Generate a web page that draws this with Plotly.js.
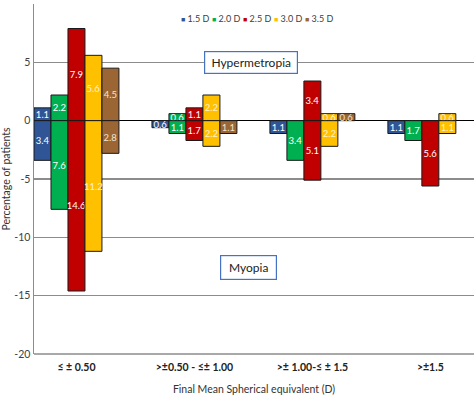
<!DOCTYPE html>
<html><head><meta charset="utf-8">
<script src="https://cdn.plot.ly/plotly-3.0.1.min.js"></script>
<style>html,body{margin:0;padding:0;background:#fff}#chart{width:474px;height:397px}</style>
</head><body><div id="chart"></div>
<script>
const categories = ['≤ ± 0.50', '>±0.50 - ≤± 1.00', '>± 1.00-≤ ± 1.5', '>±1.5'];
const seriesNames = ['1.5 D', '2.0 D', '2.5 D', '3.0 D', '3.5 D'];
const colors = ['#2F5597', '#00B050', '#C00000', '#FFC000', '#9C6634'];
const textColors = ['#FFFFFF', '#FFFFFF', '#FFFFFF', '#FFF2CC', '#F3E3CF'];
// Hypermetropia (upwards) and myopia (downwards) percentages per category
const hyper_15 = [1.1, 0, 0, 0];
const myopia_15 = [3.4, 0.6, 1.1, 1.1];
const hyper_20 = [2.2, 0.6, 0, 0];
const myopia_20 = [7.6, 1.1, 3.4, 1.7];
const hyper_25 = [7.9, 1.1, 3.4, 0];
const myopia_25 = [14.6, 1.7, 5.1, 5.6];
const hyper_30 = [5.6, 2.2, 0.6, 0.6];
const myopia_30 = [11.2, 2.2, 2.2, 1.1];
const hyper_35 = [4.5, 0, 0.6, 0];
const myopia_35 = [2.8, 1.1, 0, 0];
const yTickVals = [-20, -15, -10, -5, 0, 5, 10];
const yTickText = ['-20', '-15', '-10', '-5', '0', '5', '10'];

const hyper = [hyper_15, hyper_20, hyper_25, hyper_30, hyper_35];
const myopia = [myopia_15, myopia_20, myopia_25, myopia_30, myopia_35];

const FONT = 'Lato, "Open Sans", sans-serif';
const traces = [];
seriesNames.forEach((name, i) => {
  const common = {
    type: 'bar', x: categories, offsetgroup: name, legendgroup: name, name: name,
    marker: {color: colors[i], line: {color: '#1a1a1a', width: 1}},
    textposition: 'inside', insidetextanchor: 'middle', textangle: 0,
    constraintext: 'none', cliponaxis: false,
    textfont: {family: FONT, size: 9.5, color: textColors[i]},
    hoverinfo: 'x+text', showlegend: false
  };
  traces.push(Object.assign({}, common, {
    y: hyper[i].map(v => v === 0 ? null : v),
    text: hyper[i].map(v => v === 0 ? '' : v.toFixed(1))
  }));
  traces.push(Object.assign({}, common, {
    y: myopia[i].map(v => v === 0 ? null : -v),
    text: myopia[i].map(v => v === 0 ? '' : v.toFixed(1))
  }));
});

const annotations = [
  {xref: 'paper', yref: 'y', x: 0.493, y: 5, text: 'Hypermetropia', showarrow: false,
   font: {family: FONT, size: 12, color: '#222'}, bgcolor: '#fff', bordercolor: '#4472C4',
   borderwidth: 1.2, borderpad: 3, width: 86, height: 15},
  {xref: 'paper', yref: 'y', x: 0.487, y: -12.6, text: 'Myopia', showarrow: false,
   font: {family: FONT, size: 12, color: '#222'}, bgcolor: '#fff', bordercolor: '#4472C4',
   borderwidth: 1.2, borderpad: 3, width: 49, height: 17}
];
seriesNames.forEach((name, i) => {
  annotations.push({
    xref: 'paper', yref: 'paper', x: (179 + i * 31 - 34) / 440, y: 0.958,
    xanchor: 'left', yanchor: 'middle', showarrow: false,
    text: '<span style="color:' + colors[i] + ';font-size:7px">■</span> ' + name,
    font: {family: FONT, size: 9, color: '#404040'}
  });
});

const layout = {
  width: 474, height: 397,
  margin: {l: 34, r: 0, t: 4, b: 43},
  paper_bgcolor: '#fff', plot_bgcolor: '#fff',
  barmode: 'group', bargap: 0.28, bargroupgap: 0,
  showlegend: false,
  uniformtext: {mode: 'show', minsize: 9.5},
  font: {family: FONT, color: '#404040'},
  xaxis: {
    type: 'category', range: [-0.36, 3.37], showgrid: false, zeroline: false,
    showline: false, ticks: '', ticklabelstandoff: 5,
    tickfont: {family: FONT, size: 10.5, color: '#222', weight: 'bold'},
    title: {text: 'Final Mean Spherical equivalent (D)', font: {family: FONT, size: 10.5, color: '#333'}, standoff: 14},
    automargin: false
  },
  yaxis: {
    range: [-20, 10], tickvals: yTickVals, ticktext: yTickText,
    showgrid: true, gridcolor: '#8c8c8c', gridwidth: 1.2,
    zeroline: true, zerolinecolor: '#000', zerolinewidth: 1,
    showline: true, linecolor: '#8c8c8c', linewidth: 1.5, mirror: false,
    ticks: '', tickfont: {family: FONT, size: 10.5, color: '#404040'},
    title: {text: 'Percentage of patients', font: {family: FONT, size: 10.5, color: '#333'}, standoff: 2},
    automargin: false
  },
  shapes: [
    {type: 'line', xref: 'paper', yref: 'paper', x0: 0, x1: 1, y0: 0, y1: 0, line: {color: '#8c8c8c', width: 1.5}}
  ],
  annotations: annotations
};

Plotly.newPlot('chart', traces, layout, {displayModeBar: false, staticPlot: true});
</script>
</body></html>
